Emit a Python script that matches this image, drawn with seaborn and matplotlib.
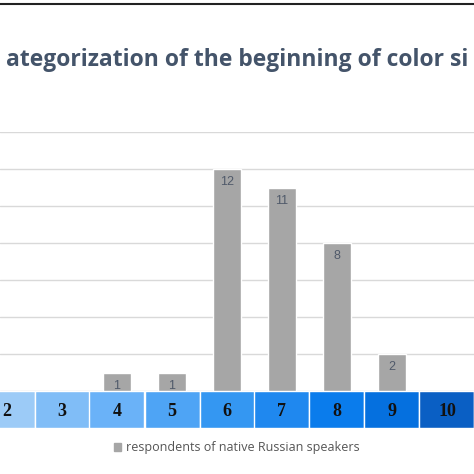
import matplotlib
matplotlib.use("Agg")
import matplotlib.pyplot as plt
import seaborn as sns
import pandas as pd
from matplotlib.lines import Line2D
from matplotlib.patches import Patch

categories = [1, 2, 3, 4, 5, 6, 7, 8, 9, 10, 11]
values = [0, 0, 0, 1, 1, 12, 11, 8, 2, 0, 0]
strip_colors = ["#b4dafc", "#9ccbf7", "#80bdf7", "#6ab2f8", "#4ea4f5", "#3497f2",
                "#1f88ef", "#0a7cec", "#0570df", "#0a5fc4", "#0a55b0"]
series_name = "respondents of native Russian speakers"
title = "ategorization of the beginning of color si"

sns.set_style("white")
fig = plt.figure(figsize=(4.74, 4.74), dpi=100)
W = H = 474.0
ax = fig.add_axes([0, (H - 391) / H, 1, 259 / H])
df = pd.DataFrame({"cat": categories, "val": values})
sns.barplot(data=df, x="cat", y="val", order=categories, color="#a6a6a6",
            width=0.51, ax=ax, saturation=1)
xl = (3 - 117 / 55, 3 + 357 / 55)
ax.set_xlim(*xl)
ax.set_ylim(0, 14)
ax.set_yticks(range(0, 15, 2))
ax.yaxis.grid(True, color="#d9d9d9", lw=1)
ax.set_axisbelow(True)
for s in ax.spines.values():
    s.set_visible(False)
ax.set_xticks([]); ax.set_yticklabels([]); ax.tick_params(length=0)
ax.set_xlabel(""); ax.set_ylabel("")
for i, v in enumerate(values):
    if v > 0:
        ax.text(i, v - 0.4, str(v), ha="center", va="top", fontsize=9,
                color="#505a6a", family="Liberation Sans")

sax = fig.add_axes([0, (H - 428) / H, 1, 37 / H])
sax.bar(range(len(categories)), [1] * len(categories), width=1.0, color=strip_colors)
sax.set_xlim(*xl); sax.set_ylim(0, 1); sax.axis("off")
for i, c in enumerate(categories):
    sax.text(i, 0.45, str(c), ha="center", va="center", fontsize=13,
             fontweight="bold", family="Liberation Serif", color="#111111")

fig.text(0.5, (H - 60) / H, title, ha="center", va="center", fontsize=16.5,
         fontweight="bold", color="#44546a", family="Open Sans")
fig.add_artist(Line2D([0, 1], [(H - 4) / H] * 2, color="#222222", lw=1.5))
fig.legend(handles=[Patch(color="#a6a6a6")], labels=[series_name],
           loc="center", bbox_to_anchor=(0.5, (H - 448) / H), frameon=False,
           handlelength=0.6, handleheight=0.6, handletextpad=0.4,
           prop={"family": "Open Sans", "size": 9}, labelcolor="#555555")
fig.savefig("out.png", dpi=100)
